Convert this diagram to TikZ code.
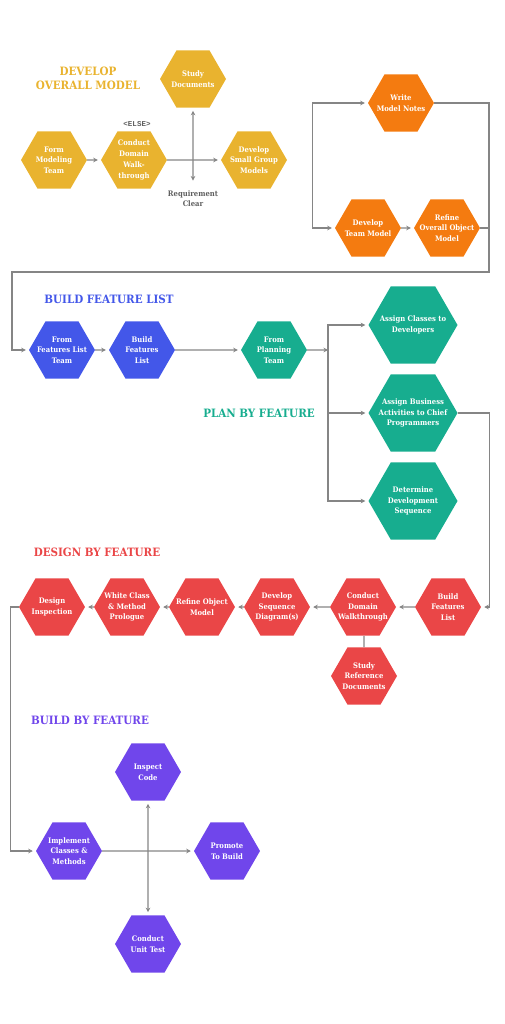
\documentclass[tikz,border=0pt]{standalone}
\usepackage{fontspec}
\setmainfont{DejaVu Serif Condensed}
\setmonofont{Liberation Mono}
\usetikzlibrary{shapes,shapes.geometric,arrows.meta,calc}
\definecolor{c_yel}{HTML}{E9B32F}
\definecolor{c_ora}{HTML}{F47B10}
\definecolor{c_blu}{HTML}{4357E9}
\definecolor{c_tea}{HTML}{17AD8F}
\definecolor{c_red}{HTML}{EA4647}
\definecolor{c_pur}{HTML}{7046EB}
\definecolor{c_lin}{HTML}{858585}
\definecolor{c_txt}{HTML}{5E5E5E}
\tikzset{
  hexnode/.style = {regular polygon, regular polygon sides=6, minimum size=66pt, inner sep=-9pt,
    align=center, text=white, font=\fontsize{7.6}{10.7}\selectfont\bfseries},
  hex_y/.style = {hexnode, fill=c_yel},
  hex_o/.style = {hexnode, fill=c_ora},
  hex_b/.style = {hexnode, fill=c_blu},
  hex_t/.style = {hexnode, fill=c_tea},
  hex_tt/.style = {hex_t, minimum size=89pt},
  hex_r/.style = {hexnode, fill=c_red},
  hex_p/.style = {hexnode, fill=c_pur},
  phase/.style = {align=center, font=\fontsize{11.5}{14}\selectfont\bfseries},
  note/.style = {align=center, text=c_txt, font=\fontsize{7.6}{10}\selectfont\bfseries},
  line/.style = {draw=c_lin, line width=1.4pt},
  arr0/.style = {line, -{Stealth[length=4.5pt,width=4.5pt]}},
  arr/.style = {arr0, shorten >=3pt},
  dbl/.style = {line, {Stealth[length=4.5pt,width=4.5pt]}-{Stealth[length=4.5pt,width=4.5pt]}, shorten >=3pt, shorten <=3pt}
}
\begin{document}
\begin{tikzpicture}[x=1pt, y=-1pt]
\useasboundingbox (0,0) rectangle (504,1024);

% develop overall model
\node [phase, text=c_yel] (t_dev) at (88,78) {DEVELOP\\OVERALL MODEL};
\node [hex_y] (form) at (54,160) {Form\\Modeling\\Team};
\node [hex_y] (walk) at (134,160) {Conduct\\Domain\\Walk-\\through};
\node [hex_y] (study) at (193,79) {Study\\Documents};
\node [hex_y] (small) at (254,160) {Develop\\Small Group\\Models};
\node [text=c_txt, font=\fontsize{7.5}{9}\selectfont\ttfamily\bfseries] (else) at (137,124) {<ELSE>};
\node [note] (req) at (193,199) {Requirement\\Clear};
\draw [arr] (form) -- (walk);
\draw [arr] (walk) -- (small);
\draw [dbl] (study.south) -- ([yshift=4pt]req.north);

\node [hex_o] (notes) at (401,103) {Write\\Model Notes};
\node [hex_o] (team) at (368,228) {Develop\\Team Model};
\node [hex_o] (refine) at (447,228) {Refine\\Overall Object\\Model};
\draw [dbl] (notes.west) -- ++(-55,0) |- (team.west);
\draw [arr] (team) -- (refine);

% build feature list
\coordinate (r1) at (489,272);
\coordinate (l1) at (12,272);
\node [phase, text=c_blu] (t_list) at (109,299) {BUILD FEATURE LIST};
\node [hex_b] (flteam) at (62,350) {From\\Features List\\Team};
\node [hex_b] (flbuild) at (142,350) {Build\\Features\\List};
\draw [line] (refine.east) -- (refine.east -| r1);
\draw [arr] (notes.east) -| (r1) -- (l1) |- (flteam.west);
\draw [arr] (flteam) -- (flbuild);

% plan by feature
\coordinate (fork) at (328,350);
\node [phase, text=c_tea] (t_plan) at (259,413) {PLAN BY FEATURE};
\node [hex_t] (planning) at (274,350) {From\\Planning\\Team};
\node [hex_tt] (classes) at (413,325) {Assign Classes to\\Developers};
\node [hex_tt] (business) at (413,413) {Assign Business\\Activities to Chief\\Programmers};
\node [hex_tt] (sequence) at (413,501) {Determine\\Development\\Sequence};
\draw [arr] (flbuild) -- (planning);
\draw [arr0] (planning) -- (fork);
\draw [arr] (fork) |- (classes.west);
\draw [arr] (fork) |- (business.west);
\draw [arr] (fork) |- (sequence.west);

% design by feature
\node [phase, text=c_red] (t_design) at (97,552) {DESIGN BY FEATURE};
\node [hex_r] (dinspect) at (52,607) {Design\\Inspection};
\node [hex_r] (prologue) at (127,607) {White Class\\\& Method\\Prologue};
\node [hex_r] (objmodel) at (202,607) {Refine Object\\Model};
\node [hex_r] (seqdiag) at (277,607) {Develop\\Sequence\\Diagram(s)};
\node [hex_r] (dwalk) at (363,607) {Conduct\\Domain\\Walkthrough};
\node [hex_r] (dbuild) at (448,607) {Build\\Features\\List};
\node [hex_r] (refdocs) at (364,676) {Study\\Reference\\Documents};
\draw [arr] (business.east) -- ++(32,0) |- (dbuild.east);
\draw [arr] (dbuild) -- (dwalk);
\draw [arr] (dwalk) -- (seqdiag);
\draw [arr] (seqdiag) -- (objmodel);
\draw [arr] (objmodel) -- (prologue);
\draw [arr] (prologue) -- (dinspect);
\draw [line] (dwalk.south -| refdocs) -- (refdocs.north);

% build by feature
\node [phase, text=c_pur] (t_build) at (90,720) {BUILD BY FEATURE};
\node [hex_p] (implement) at (69,851) {Implement\\Classes \&\\Methods};
\node [hex_p] (inspect) at (148,772) {Inspect\\Code};
\node [hex_p] (promote) at (227,851) {Promote\\To Build};
\node [hex_p] (unittest) at (148,944) {Conduct\\Unit Test};
\draw [arr] (dinspect.west) -- ++(-8,0) |- (implement.west);
\draw [arr] (implement) -- (promote);
\draw [dbl] (inspect) -- (unittest);
\end{tikzpicture}
\end{document}
